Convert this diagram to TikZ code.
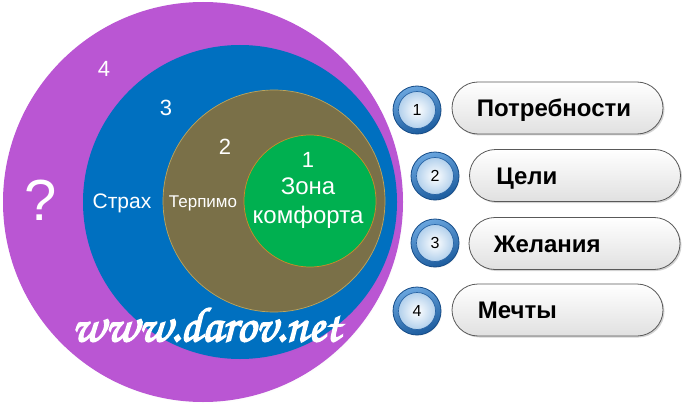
\documentclass[tikz,border=0pt]{standalone}
\usepackage{fontspec}
\setmainfont{Liberation Sans}
\newfontfamily\webfont{texgyrechorus-mediumitalic.otf}[FakeBold=3]
\usetikzlibrary{shadows}
\definecolor{zpurple}{RGB}{186,86,211}
\definecolor{zblue}{RGB}{0,112,192}
\definecolor{zolive}{RGB}{122,112,72}
\definecolor{zoliveline}{RGB}{190,165,90}
\definecolor{zgreen}{RGB}{0,176,80}
\definecolor{zgreenline}{RGB}{205,140,40}
\definecolor{btntop}{RGB}{105,165,222}
\definecolor{btnbot}{RGB}{28,92,158}
\definecolor{btnline}{RGB}{20,75,135}
\definecolor{btnin}{RGB}{178,208,236}
\definecolor{btninline}{RGB}{40,100,165}
\tikzset{
  zone/.style={circle, inner sep=0pt, minimum size=#1,
    circular drop shadow={opacity=0.25, shadow xshift=1.5pt, shadow yshift=-1.5pt, shadow scale=1}},
  lbl/.style={text=white, inner sep=0pt, font=\fontsize{#1}{#1}\selectfont},
  ring/.style={circle, inner sep=0pt, minimum size=48pt, top color=btntop, bottom color=btnbot,
    shading angle=20, draw=btnline, line width=0.8pt,
    circular drop shadow={opacity=0.3, shadow xshift=1pt, shadow yshift=-1pt, shadow scale=1}},
  ringin/.style={circle, inner sep=0pt, minimum size=37pt, inner color=white, outer color=btnin,
    draw=btninline, line width=0.7pt, font=\fontsize{16}{16}\selectfont},
  pill/.style={rectangle, rounded corners=26pt, minimum width=211pt, minimum height=52pt,
    draw=black!65, line width=0.8pt, top color=white, bottom color=black!12,
    drop shadow={opacity=0.35, shadow xshift=1.5pt, shadow yshift=-1.5pt}},
  pilltext/.style={anchor=base west, inner sep=0pt, font=\bfseries\fontsize{24}{24}\selectfont}
}
\begin{document}
\begin{tikzpicture}[x=1pt,y=-1pt]
\useasboundingbox (0,0) rectangle (684,406);
% zones
\node[zone=400pt, fill=zpurple] (z4) at (203,202) {};
\node[zone=314pt, fill=zblue] (z3) at (240,202) {};
\node[zone=222pt, fill=zolive, draw=zoliveline, line width=0.7pt] (z2) at (274,201) {};
\node[zone=132pt, fill=zgreen, draw=zgreenline, line width=0.7pt] (z1) at (310,201) {};
% zone labels
\node[lbl=22] (n4) at (104,69) {4};
\node[lbl=22] (n3) at (166,108) {3};
\node[lbl=22] (n2) at (225,147) {2};
\node[lbl=22] (n1) at (308,160) {1};
\node[lbl=24, align=center, font=\fontsize{24}{29}\selectfont] (comfort) at (308,203) {Зона\\комфорта};
\node[lbl=58] (q) at (41,200) {?};
\node[lbl=21] (fear) at (122,203) {Страх};
\node[lbl=17] (tol) at (203,203) {Терпимо};
\node[lbl=49, font=\webfont\fontsize{49}{49}\selectfont] (web) at (206,325) {www.darov.net};
% buttons
\node[pill] (p1) at (557.5,108) {};
\node[pill] (p2) at (575,175.5) {};
\node[pill] (p3) at (574.5,243.5) {};
\node[pill] (p4) at (557.5,310) {};
\node[ring] (b1) at (417,110) {};
\node[ring] (b2) at (435,176) {};
\node[ring] (b3) at (435,243) {};
\node[ring] (b4) at (417,311) {};
\node[ringin] (b1i) at (b1) {1};
\node[ringin] (b2i) at (b2) {2};
\node[ringin] (b3i) at (b3) {3};
\node[ringin] (b4i) at (b4) {4};
\node[pilltext] (t1) at ([xshift=25pt,yshift=-8.6pt]p1.west) {Потребности};
\node[pilltext] (t2) at ([xshift=27pt,yshift=-8.6pt]p2.west) {Цели};
\node[pilltext] (t3) at ([xshift=25pt,yshift=-8.6pt]p3.west) {Желания};
\node[pilltext] (t4) at ([xshift=26pt,yshift=-8.6pt]p4.west) {Мечты};
\end{tikzpicture}
\end{document}
